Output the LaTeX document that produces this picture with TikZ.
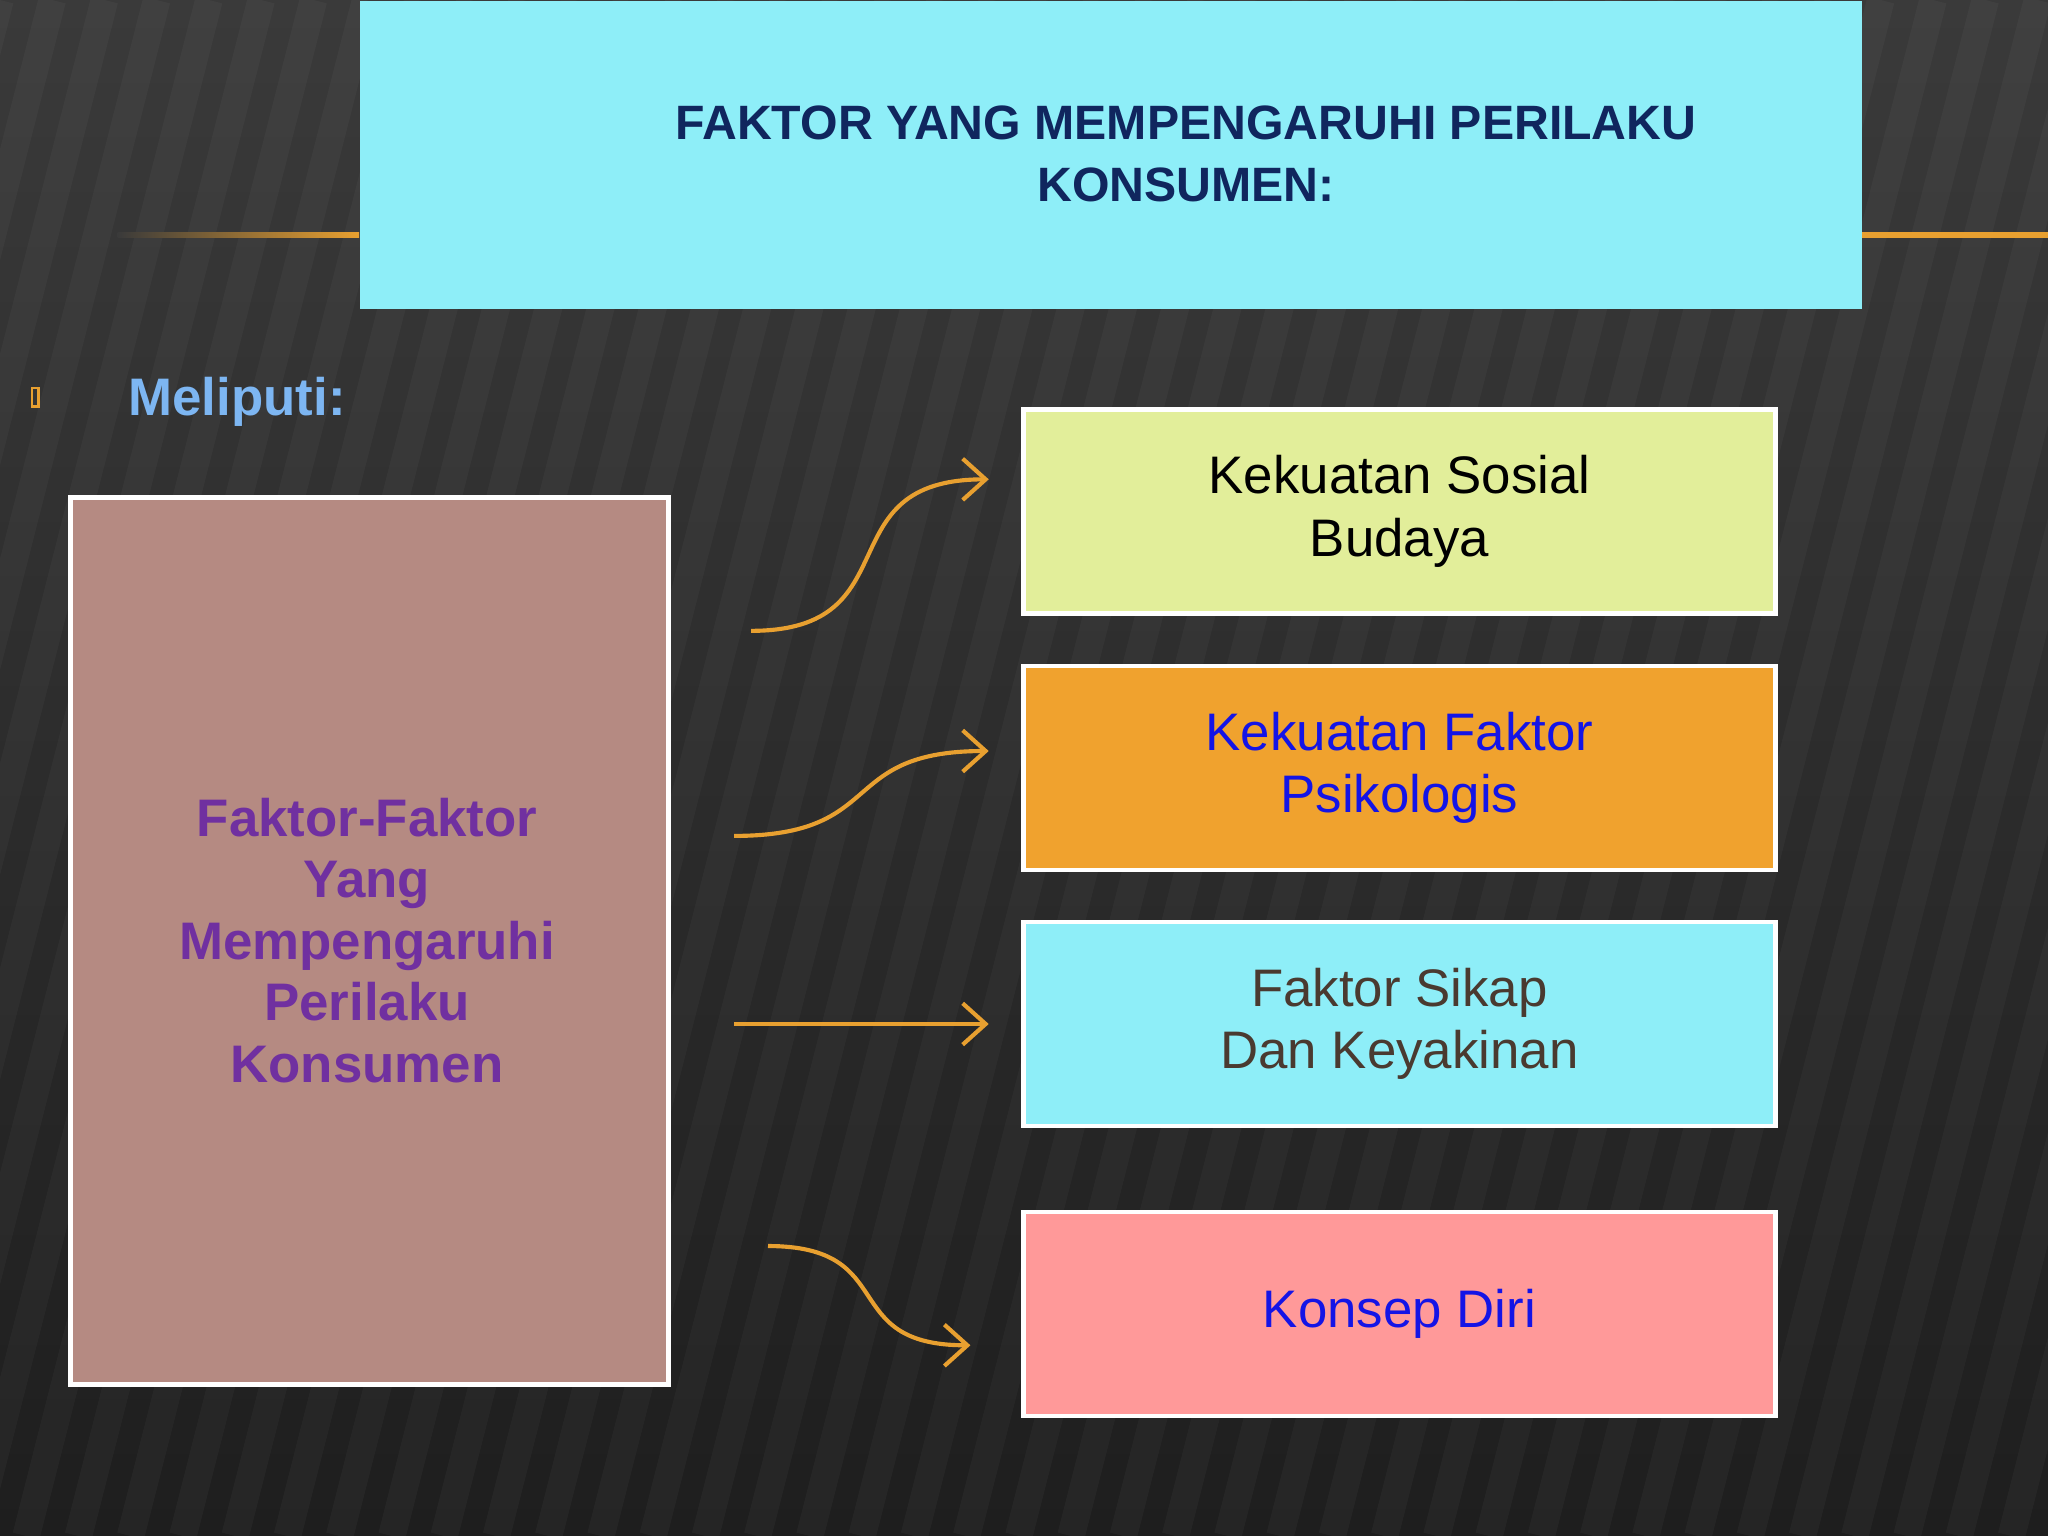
\documentclass[tikz,border=0pt]{standalone}
\usepackage{fontspec}
\setmainfont{Liberation Sans}
\usetikzlibrary{arrows.meta}
\definecolor{bgA}{HTML}{3A3A3A}
\definecolor{bgB}{HTML}{1E1E1E}
\definecolor{cyanbox}{HTML}{8EEEF8}
\definecolor{navy}{HTML}{10265E}
\definecolor{melip}{HTML}{7DB6F2}
\definecolor{rose}{HTML}{B58A82}
\definecolor{purp}{HTML}{7030A0}
\definecolor{lime}{HTML}{E2EE9A}
\definecolor{orng}{HTML}{F0A22E}
\definecolor{pink}{HTML}{FF9999}
\definecolor{bluet}{HTML}{1414E6}
\definecolor{brownt}{HTML}{4A3A30}
\definecolor{arr}{HTML}{E8A030}
\tikzset{
 rbox/.style={draw=white,line width=1pt,minimum width=5.75cm,minimum height=1.56cm,align=center,font=\fontsize{11.5pt}{13.6pt}\selectfont},
 conn/.style={draw=arr,line width=0.9pt,-{Straight Barb[length=5pt,width=9pt]}}
}
\begin{document}
\begin{tikzpicture}[x=0.01cm,y=-0.01cm]
\shade[top color=bgA,bottom color=bgB] (0,0) rectangle (1568,1176);
\useasboundingbox (0,0) rectangle (1568,1176);
\foreach \i in {-20,...,60}{\draw[white,opacity=0.03,line width=6pt] (\i*40,0) -- (\i*40-300,1176);}
\shade[left color=bgA,right color=arr] (90,178) rectangle (275,182);
\fill[arr] (1424,178) rectangle (1568,182);
\node[fill=cyanbox,minimum width=11.49cm,minimum height=2.36cm,anchor=north west,inner sep=0] (title) at (275,0) {};
\node[font=\bfseries\fontsize{10.5pt}{13.4pt}\selectfont,text=navy,align=center] (ttext) at (908,118) {FAKTOR YANG MEMPENGARUHI PERILAKU\\KONSUMEN:};
\node[draw=arr,line width=0.6pt,minimum width=0.05cm,minimum height=0.14cm,inner sep=0] (bul) at (27,304) {};
\node[font=\bfseries\fontsize{11.5pt}{14pt}\selectfont,text=melip,anchor=west] (mel) at (86,308) {Meliputi:};
\node[draw=white,line width=1pt,fill=rose,minimum width=4.58cm,minimum height=6.79cm,anchor=north west,inner sep=0] (left) at (52,379) {};
\node[font=\bfseries\fontsize{11.5pt}{13.4pt}\selectfont,text=purp,align=center] (ltext) at (281,720) {Faktor-Faktor\\Yang\\Mempengaruhi\\Perilaku\\Konsumen};
\node[rbox,fill=lime,text=black] (b1) at (1071.5,391.5) {Kekuatan Sosial\\Budaya};
\node[rbox,fill=orng,text=bluet] (b2) at (1071.5,588) {Kekuatan Faktor\\Psikologis};
\node[rbox,fill=cyanbox,text=brownt] (b3) at (1071.5,784) {Faktor Sikap\\Dan Keyakinan};
\node[rbox,fill=pink,text=bluet] (b4) at (1071.5,1006) {Konsep Diri};
\coordinate (s1) at (575,483); \coordinate (e1) at (757,367);
\coordinate (s2) at (562,640); \coordinate (e2) at (757,575);
\coordinate (s3) at (562,784); \coordinate (e3) at (757,784);
\coordinate (s4) at (588,954); \coordinate (e4) at (743,1030);
\draw[conn] (s1) .. controls (700,483) and (630,367) .. (e1);
\draw[conn] (s2) .. controls (680,640) and (640,575) .. (e2);
\draw[conn] (s3) -- (e3);
\draw[conn] (s4) .. controls (690,954) and (640,1030) .. (e4);
\end{tikzpicture}
\end{document}
